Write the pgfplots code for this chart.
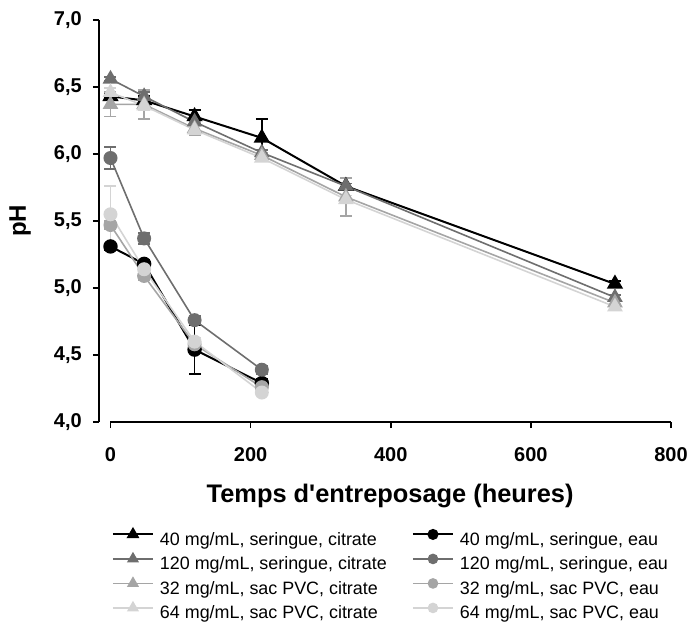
\documentclass[border=0pt]{standalone}
\usepackage{pgfplots}
\pgfplotsset{compat=1.18}
\usepackage{fontspec}
\setmainfont{Liberation Sans}
\newfontfamily\nomapfont{Liberation Sans}[Ligatures=TeXOff]
\definecolor{cA}{RGB}{0,0,0}
\definecolor{cB}{RGB}{110,110,110}
\definecolor{cC}{RGB}{165,165,165}
\definecolor{cD}{RGB}{212,212,212}
\newcommand{\LE}[1]{\makebox[246bp][l]{#1}}
\begin{document}
\begin{tikzpicture}
\useasboundingbox (0,0) rectangle (700bp,632bp);
\begin{axis}[
  at={(99bp,210bp)}, anchor=south west,
  scale only axis, width=572bp, height=402bp,
  xmin=-16.4, xmax=800, ymin=4, ymax=7,
  clip=false,
  axis lines=left,
  axis line style={draw=none},
  tick align=outside,
  major tick length=6bp,
  tick style={line width=1.6bp, black},
  xtick={0,200,400,600,800},
  ytick={4,4.5,5,5.5,6,6.5,7},
  /pgf/number format/assume math mode=true,
  tick label style={font=\fontsize{20bp}{24bp}\selectfont\bfseries, inner sep=0pt},
  yticklabel style={xshift=-11bp, /pgf/number format/.cd, fixed, fixed zerofill, precision=1, use comma},
  xticklabel style={yshift=-19bp, /pgf/number format/.cd, fixed, precision=0},
  xlabel={Temps d{\nomapfont\bfseries '}entreposage (heures)},
  ylabel={pH},
  xlabel style={font=\fontsize{25.4bp}{30bp}\selectfont\bfseries, at={(axis description cs:0.509,0)}, anchor=base, yshift=-80bp, inner sep=0pt},
  ylabel style={font=\fontsize{24bp}{28bp}\selectfont\bfseries, at={(axis description cs:0,0.5)}, anchor=center, yshift=79bp, inner sep=0pt},
  legend columns=2,
  legend cell align=left,
  legend style={draw=none, fill=none, inner sep=0pt, outer sep=0pt,
    at={(axis description cs:0.0227,-0.266)}, anchor=north west,
    font=\fontsize{17.9bp}{21bp}\selectfont,
    nodes={inner sep=0pt, text height=13bp, text depth=4bp},
    row sep=4bp, column sep=6bp},
  legend image code/.code={\draw[mark repeat=2,mark phase=2,#1] plot coordinates {(0bp,6.5bp) (20bp,6.5bp) (40bp,6.5bp)};},
  error bars/y dir=both, error bars/y explicit,
]
% legend entries
\addlegendimage{cA, line width=2bp, mark=triangle*, mark size=5.5bp}
\addlegendentry{\LE{40 mg/mL, seringue, citrate}}
\addlegendimage{cA, line width=2bp, mark=*, mark size=4.5bp}
\addlegendentry{40 mg/mL, seringue, eau}
\addlegendimage{cB, line width=1.6bp, mark=triangle*, mark size=5.5bp}
\addlegendentry{\LE{120 mg/mL, seringue, citrate}}
\addlegendimage{cB, line width=1.6bp, mark=*, mark size=4.5bp}
\addlegendentry{120 mg/mL, seringue, eau}
\addlegendimage{cC, line width=1.6bp, mark=triangle*, mark size=5.5bp}
\addlegendentry{\LE{32 mg/mL, sac PVC, citrate}}
\addlegendimage{cC, line width=1.6bp, mark=*, mark size=4.5bp}
\addlegendentry{32 mg/mL, sac PVC, eau}
\addlegendimage{cD, line width=1.6bp, mark=triangle*, mark size=5.5bp}
\addlegendentry{\LE{64 mg/mL, sac PVC, citrate}}
\addlegendimage{cD, line width=1.6bp, mark=*, mark size=4.5bp}
\addlegendentry{64 mg/mL, sac PVC, eau}

\pgfplotsset{
  citr/.style={forget plot, color=#1, mark=triangle*, mark size=7.5bp,
    error bars/error bar style={line width=1.8bp, #1},
    error bars/error mark options={rotate=90, mark size=6bp, line width=1.8bp, #1}},
  eau/.style={forget plot, color=#1, mark=*, mark size=6.2bp,
    error bars/error bar style={line width=1.8bp, #1},
    error bars/error mark options={rotate=90, mark size=6bp, line width=1.8bp, #1}},
}
% citrate series
\addplot[citr=cA, line width=2bp] coordinates {
  (0,6.43) +- (0,0.015) (48,6.40) +- (0,0.03) (120,6.28) +- (0,0.05)
  (216,6.12) +- (0,0.14) (336,5.76) +- (0,0.02) (720,5.03) +- (0,0.02)};
\addplot[citr=cB, line width=1.6bp] coordinates {
  (0,6.56) +- (0,0.012) (48,6.43) +- (0,0.03) (120,6.24) +- (0,0.03)
  (216,6.01) +- (0,0.02) (336,5.76) +- (0,0.02) (720,4.93) +- (0,0.02)};
\addplot[citr=cC, line width=1.6bp] coordinates {
  (0,6.37) +- (0,0.09) (48,6.37) +- (0,0.11) (120,6.19) +- (0,0.05)
  (216,5.99) +- (0,0.02) (336,5.68) +- (0,0.14) (720,4.89) +- (0,0.02)};
\addplot[citr=cD, line width=1.6bp] coordinates {
  (0,6.46) +- (0,0.03) (48,6.36) +- (0,0.03) (120,6.18) +- (0,0.03)
  (216,5.97) +- (0,0.02) (336,5.66) +- (0,0.03) (720,4.86) +- (0,0.02)};
% eau series
\addplot[eau=cA, line width=2bp] coordinates {
  (0,5.31) +- (0,0.03) (48,5.18) +- (0,0.03) (120,4.54) +- (0,0.18) (216,4.29) +- (0,0.03)};
\addplot[eau=cB, line width=1.6bp] coordinates {
  (0,5.97) +- (0,0.08) (48,5.37) +- (0,0.04) (120,4.76) +- (0,0.03) (216,4.39) +- (0,0.03)};
\addplot[eau=cC, line width=1.6bp] coordinates {
  (0,5.47) +- (0,0.03) (48,5.09) +- (0,0.03) (120,4.58) +- (0,0.03) (216,4.26) +- (0,0.02)};
\addplot[eau=cD, line width=1.6bp] coordinates {
  (0,5.55) +- (0,0.21) (48,5.14) +- (0,0.05) (120,4.60) +- (0,0.03) (216,4.22) +- (0,0.02)};
% axis lines (detached style)
\draw[line width=2bp, black] (axis cs:-16.4,4) -- (axis cs:-16.4,7);
\draw[line width=2bp, black] (axis cs:0,4) -- (axis cs:800,4);
\end{axis}
\end{tikzpicture}
\end{document}
